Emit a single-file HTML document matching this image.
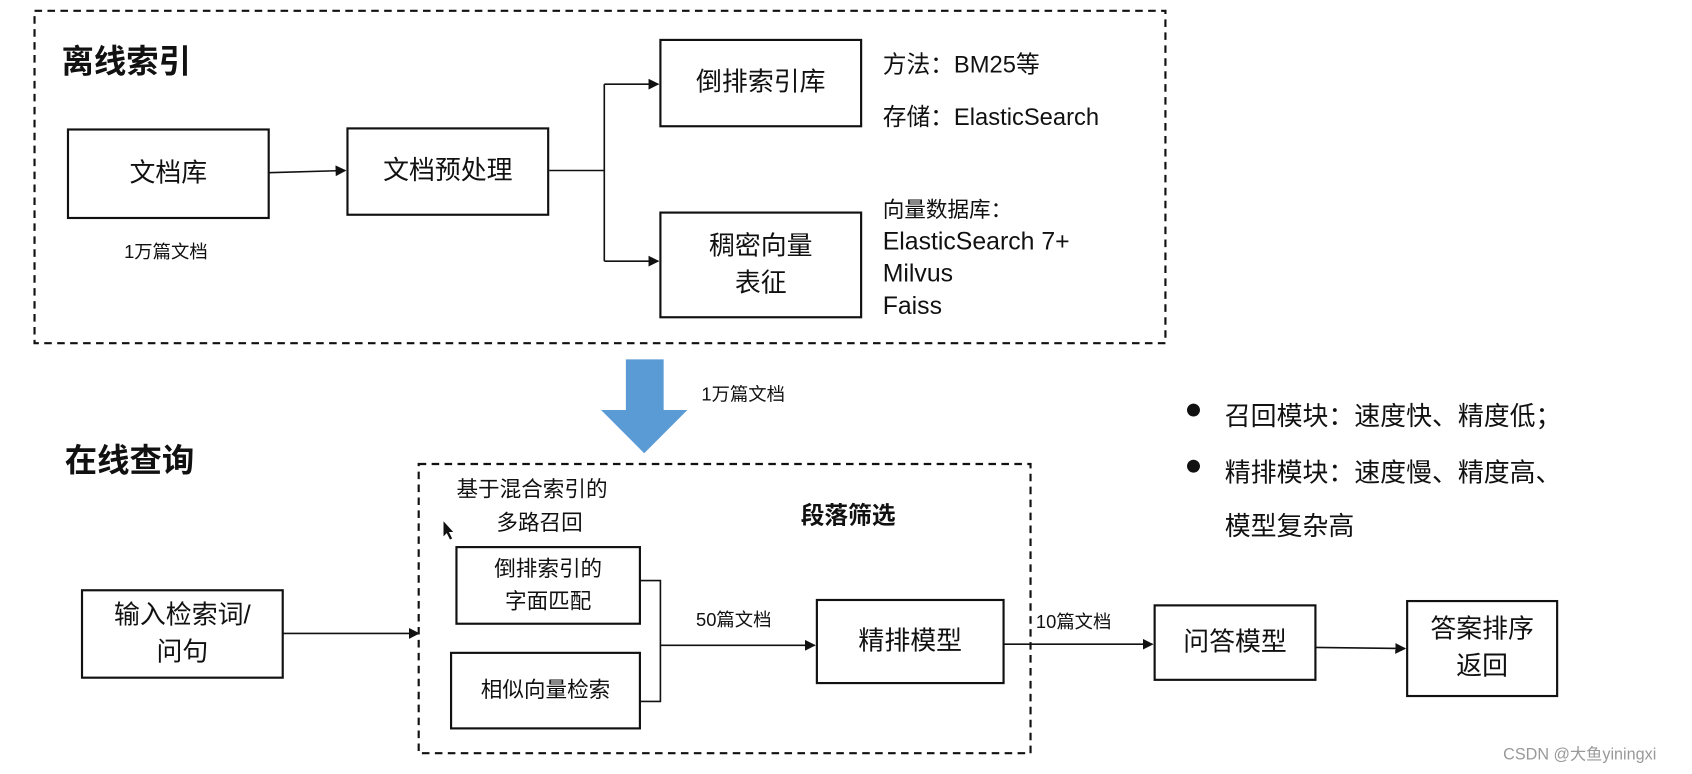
<!DOCTYPE html>
<html><head><meta charset="utf-8">
<style>
html,body{margin:0;padding:0;background:#fff;width:1692px;height:774px;overflow:hidden}
#w{position:absolute;left:0;top:0;width:1568px;height:717px;transform:scale(1.0791);transform-origin:0 0;font-family:"Liberation Sans","Noto Sans CJK SC",sans-serif;color:#111}
.b{position:absolute;border:2px solid #111;box-sizing:border-box;display:flex;align-items:center;justify-content:center;text-align:center;font-size:24px;line-height:34px}
.t{position:absolute;white-space:nowrap}
svg{position:absolute;left:0;top:0}
</style></head><body><div id="w">
<svg width="1568" height="717">
<defs><marker id="a" markerWidth="10" markerHeight="10" refX="9" refY="5" orient="auto" markerUnits="userSpaceOnUse"><path d="M0,0 L10,5 L0,10 z" fill="#111"/></marker></defs>
<rect x="32" y="10" width="1048" height="308" fill="none" stroke="#111" stroke-width="2" stroke-dasharray="7,5"/>
<rect x="388" y="430" width="567" height="268" fill="none" stroke="#111" stroke-width="2" stroke-dasharray="7,5"/>
<g stroke="#111" stroke-width="1.5" fill="none">
<line x1="249" y1="160" x2="320" y2="158" marker-end="url(#a)"/>
<polyline points="509,158 560,158"/>
<polyline points="560,78 560,242"/>
<line x1="560" y1="78" x2="610" y2="78" marker-end="url(#a)"/>
<line x1="560" y1="242" x2="610" y2="242" marker-end="url(#a)"/>
<line x1="262" y1="587" x2="388" y2="587" marker-end="url(#a)"/>
<polyline points="593,538 612,538 612,650 593,650"/>
<line x1="612" y1="598" x2="755" y2="598" marker-end="url(#a)"/>
<line x1="930" y1="597" x2="1068" y2="597" marker-end="url(#a)"/>
<line x1="1219" y1="600" x2="1302" y2="601" marker-end="url(#a)"/>
</g>
<path d="M580,333 L615,333 L615,380 L637,380 L597,420 L557,380 L580,380 z" fill="#5b9bd5"/>
<circle cx="1106" cy="380" r="6" fill="#111"/>
<circle cx="1106" cy="432" r="6" fill="#111"/>
<path d="M411,483 L411,497 L414,494 L417,500 L419,499 L416,493 L420,493 z" fill="#111"/>
</svg>
<div class="t" style="left:57px;top:32px;font-size:30px;font-weight:bold">离线索引</div>
<div class="b" style="left:62px;top:119px;width:188px;height:84px">文档库</div>
<div class="t" style="left:115px;top:219px;font-size:17px">1万篇文档</div>
<div class="b" style="left:321px;top:118px;width:188px;height:82px">文档预处理</div>
<div class="b" style="left:611px;top:36px;width:188px;height:82px">倒排索引库</div>
<div class="b" style="left:611px;top:196px;width:188px;height:99px">稠密向量<br>表征</div>
<div class="t" style="left:818px;top:42px;font-size:22px">方法：BM25等</div>
<div class="t" style="left:818px;top:91px;font-size:22px">存储：ElasticSearch</div>
<div class="t" style="left:818px;top:178px;font-size:20px">向量数据库：</div>
<div class="t" style="left:818px;top:210px;font-size:23px">ElasticSearch 7+</div>
<div class="t" style="left:818px;top:240px;font-size:23px">Milvus</div>
<div class="t" style="left:818px;top:270px;font-size:23px">Faiss</div>
<div class="t" style="left:650px;top:351px;font-size:17px">1万篇文档</div>
<div class="t" style="left:60px;top:402px;font-size:30px;font-weight:bold">在线查询</div>
<div class="t" style="left:1135px;top:366px;font-size:24px">召回模块：速度快、精度低；</div>
<div class="t" style="left:1135px;top:418px;font-size:24px">精排模块：速度慢、精度高、</div>
<div class="t" style="left:1135px;top:468px;font-size:24px">模型复杂高</div>
<div class="t" style="left:423px;top:437px;font-size:20px">基于混合索引的</div>
<div class="t" style="left:460px;top:468px;font-size:20px">多路召回</div>
<div class="t" style="left:742px;top:460px;font-size:22px;font-weight:bold">段落筛选</div>
<div class="b" style="left:422px;top:506px;width:172px;height:73px;font-size:20px;line-height:30px">倒排索引的<br>字面匹配</div>
<div class="b" style="left:417px;top:604px;width:177px;height:72px;font-size:20px">相似向量检索</div>
<div class="b" style="left:75px;top:546px;width:188px;height:83px">输入检索词/<br>问句</div>
<div class="t" style="left:645px;top:560px;font-size:17px">50篇文档</div>
<div class="b" style="left:756px;top:555px;width:175px;height:79px">精排模型</div>
<div class="t" style="left:960px;top:562px;font-size:17px">10篇文档</div>
<div class="b" style="left:1069px;top:560px;width:151px;height:71px">问答模型</div>
<div class="b" style="left:1303px;top:556px;width:141px;height:90px">答案排序<br>返回</div>
<div class="t" style="left:1393px;top:688px;font-size:15px;color:#999">CSDN @大鱼yiningxi</div>
</div></body></html>
